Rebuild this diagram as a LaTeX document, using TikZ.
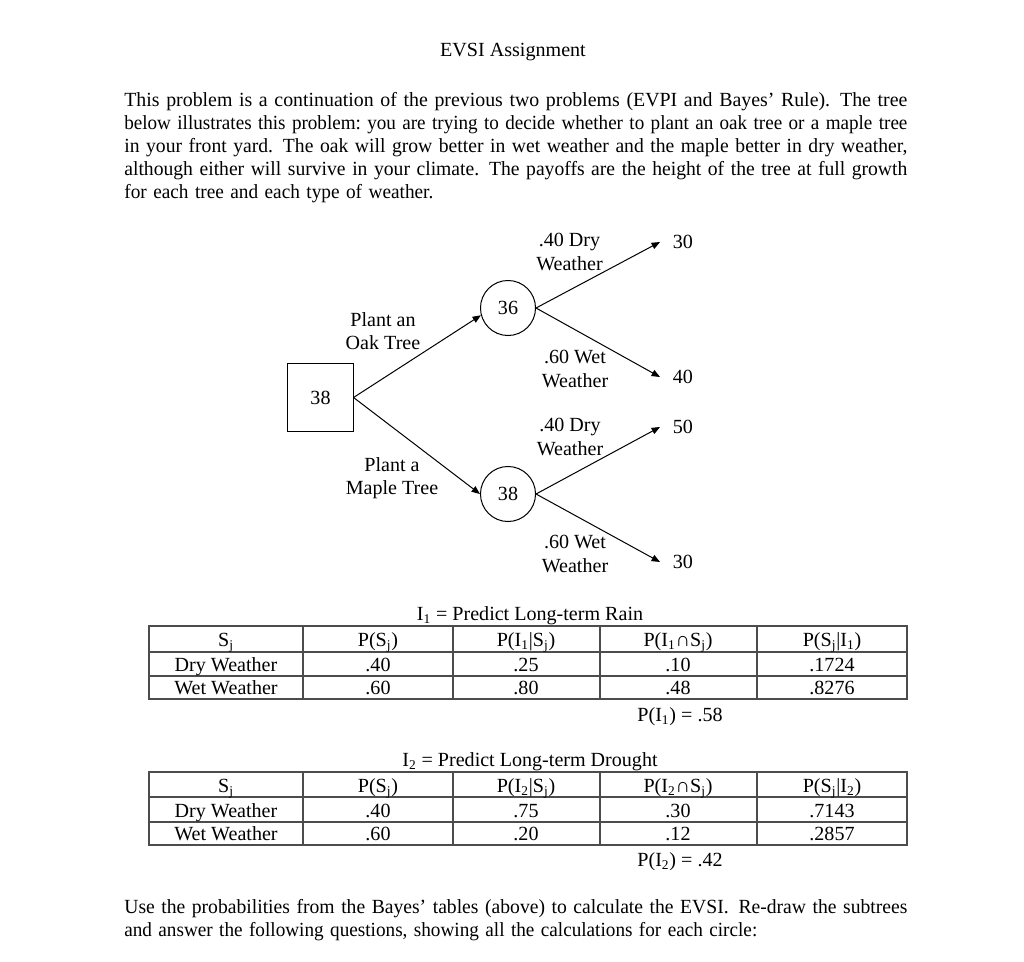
\documentclass[tikz,border=0pt]{standalone}
\usepackage{graphicx}
\usepackage{fontspec}
\setmainfont{Liberation Serif}
\usetikzlibrary{arrows.meta, positioning}
\newsavebox{\jbox}
\newcommand{\jline}[1]{\sbox{\jbox}{#1}%
    \ifdim\wd\jbox>468pt\resizebox{468pt}{\height}{\usebox{\jbox}}\else\makebox[468pt][s]{#1}\fi}
\newcommand{\lastline}[2]{\resizebox{#1}{\height}{#2}}

\begin{document}
\begin{tikzpicture}[
        x=0.5977pt, y=-0.5977pt,
        every node/.style={font=\fontsize{12}{13.8}\selectfont, inner sep=0pt},
        para/.style={text width=468pt, align=left, anchor=base west},
        decision/.style={rectangle, draw=black, line width=0.6pt, minimum width=38.9pt, minimum height=41.2pt},
        chance/.style={circle, draw=black, line width=0.6pt, minimum size=32.9pt},
        branch/.style={align=center},
        payoff/.style={anchor=west, inner xsep=7.5pt},
        arrow/.style={-{Triangle[length=5pt,width=4pt]}, draw=black, line width=0.6pt},
        grid/.style={draw=black!70, line width=0.8pt}
    ]
        \fill[white] (0,0) rectangle (1024,962);
        \useasboundingbox (0,0) rectangle (1024,962);

        \node[anchor=base] (title) at (513,57) {EVSI Assignment};
        \node[para] (intro) at (124,106) {\jline{This problem is a continuation of the previous two problems (EVPI and Bayes’ Rule). The tree}\\
            \jline{below illustrates this problem:\ you are trying to decide whether to plant an oak tree or a maple tree}\\
            \jline{in your front yard. The oak will grow better in wet weather and the maple better in dry weather,}\\
            \jline{although either will survive in your climate. The payoffs are the height of the tree at full growth}\\
            \lastline{184.7pt}{for each tree and each type of weather.}};

        % decision tree
        \node[decision] (root) at (320.5,397.5) {38};
        \node[chance] (oak) at (508,308) {36};
        \node[chance] (maple) at (508,494) {38};
        \node[payoff] (oakdry) at (660,242) {30};
        \node[payoff] (oakwet) at (660,377) {40};
        \node[payoff] (mapledry) at (660,427) {50};
        \node[payoff] (maplewet) at (660,562) {30};

        \node[branch] (oaklbl) at (383,331) {Plant an\\Oak Tree};
        \node[branch] (maplelbl) at (392,478) {Plant a\\Maple Tree};
        \node[branch] (oakdrylbl) at (569.5,252) {.40 Dry\\Weather};
        \node[branch] (oakwetlbl) at (575,369) {.60 Wet\\Weather};
        \node[branch] (mapledrylbl) at (570,437) {.40 Dry\\Weather};
        \node[branch] (maplewetlbl) at (575,554) {.60 Wet\\Weather};

        \draw[arrow] (root.east) -- (oak.195);
        \draw[arrow] (root.east) -- (maple.west);
        \draw[arrow] (oak.east) -- (oakdry.west);
        \draw[arrow] (oak.east) -- (oakwet.west);
        \draw[arrow] (maple.east) -- (mapledry.west);
        \draw[arrow] (maple.east) -- (maplewet.west);

        % Bayes table, rain
        \node[anchor=base] (raintitle) at (530,620) {I\textsubscript{1} = Predict Long-term Rain};
        \draw[grid] (149,626) rectangle (907,699);
        \foreach \ty in {652,676} \draw[grid] (149,\ty) -- (907,\ty);
        \foreach \tx in {303,453,600,757} \draw[grid] (\tx,626) -- (\tx,699);
        \foreach \cx/\hd/\ra/\rb [count=\k] in {
            226/S\textsubscript{j}/Dry Weather/Wet Weather,
            378/P(S\textsubscript{j})/.40/.60,
            526/P(I\textsubscript{1}|S\textsubscript{j})/.25/.80,
            678/P(I\textsubscript{1}∩S\textsubscript{j})/.10/.48,
            832/P(S\textsubscript{j}|I\textsubscript{1})/.1724/.8276} {
            \node[anchor=base] (rain-h\k) at (\cx,646) {\hd};
            \node[anchor=base] (rain-a\k) at (\cx,671) {\ra};
            \node[anchor=base] (rain-b\k) at (\cx,694) {\rb};
        }
        \node[anchor=base] (rainsum) at (680,721) {P(I\textsubscript{1}) = .58};

        % Bayes table, drought
        \node[anchor=base] (drytitle) at (530,766) {I\textsubscript{2} = Predict Long-term Drought};
        \draw[grid] (149,772) rectangle (907,845);
        \foreach \ty in {797,822} \draw[grid] (149,\ty) -- (907,\ty);
        \foreach \tx in {303,453,600,757} \draw[grid] (\tx,772) -- (\tx,845);
        \foreach \cx/\hd/\ra/\rb [count=\k] in {
            226/S\textsubscript{j}/Dry Weather/Wet Weather,
            378/P(S\textsubscript{j})/.40/.60,
            526/P(I\textsubscript{2}|S\textsubscript{j})/.75/.20,
            678/P(I\textsubscript{2}∩S\textsubscript{j})/.30/.12,
            832/P(S\textsubscript{j}|I\textsubscript{2})/.7143/.2857} {
            \node[anchor=base] (dry-h\k) at (\cx,792) {\hd};
            \node[anchor=base] (dry-a\k) at (\cx,817) {\ra};
            \node[anchor=base] (dry-b\k) at (\cx,840) {\rb};
        }
        \node[anchor=base] (drysum) at (680,866) {P(I\textsubscript{2}) = .42};

        \node[para] (task) at (124,913) {\jline{Use the probabilities from the Bayes’ tables (above) to calculate the EVSI\@. Re-draw the subtrees}\\
            \lastline{378.3pt}{and answer the following questions, showing all the calculations for each circle:}};
    \end{tikzpicture}
\end{document}
